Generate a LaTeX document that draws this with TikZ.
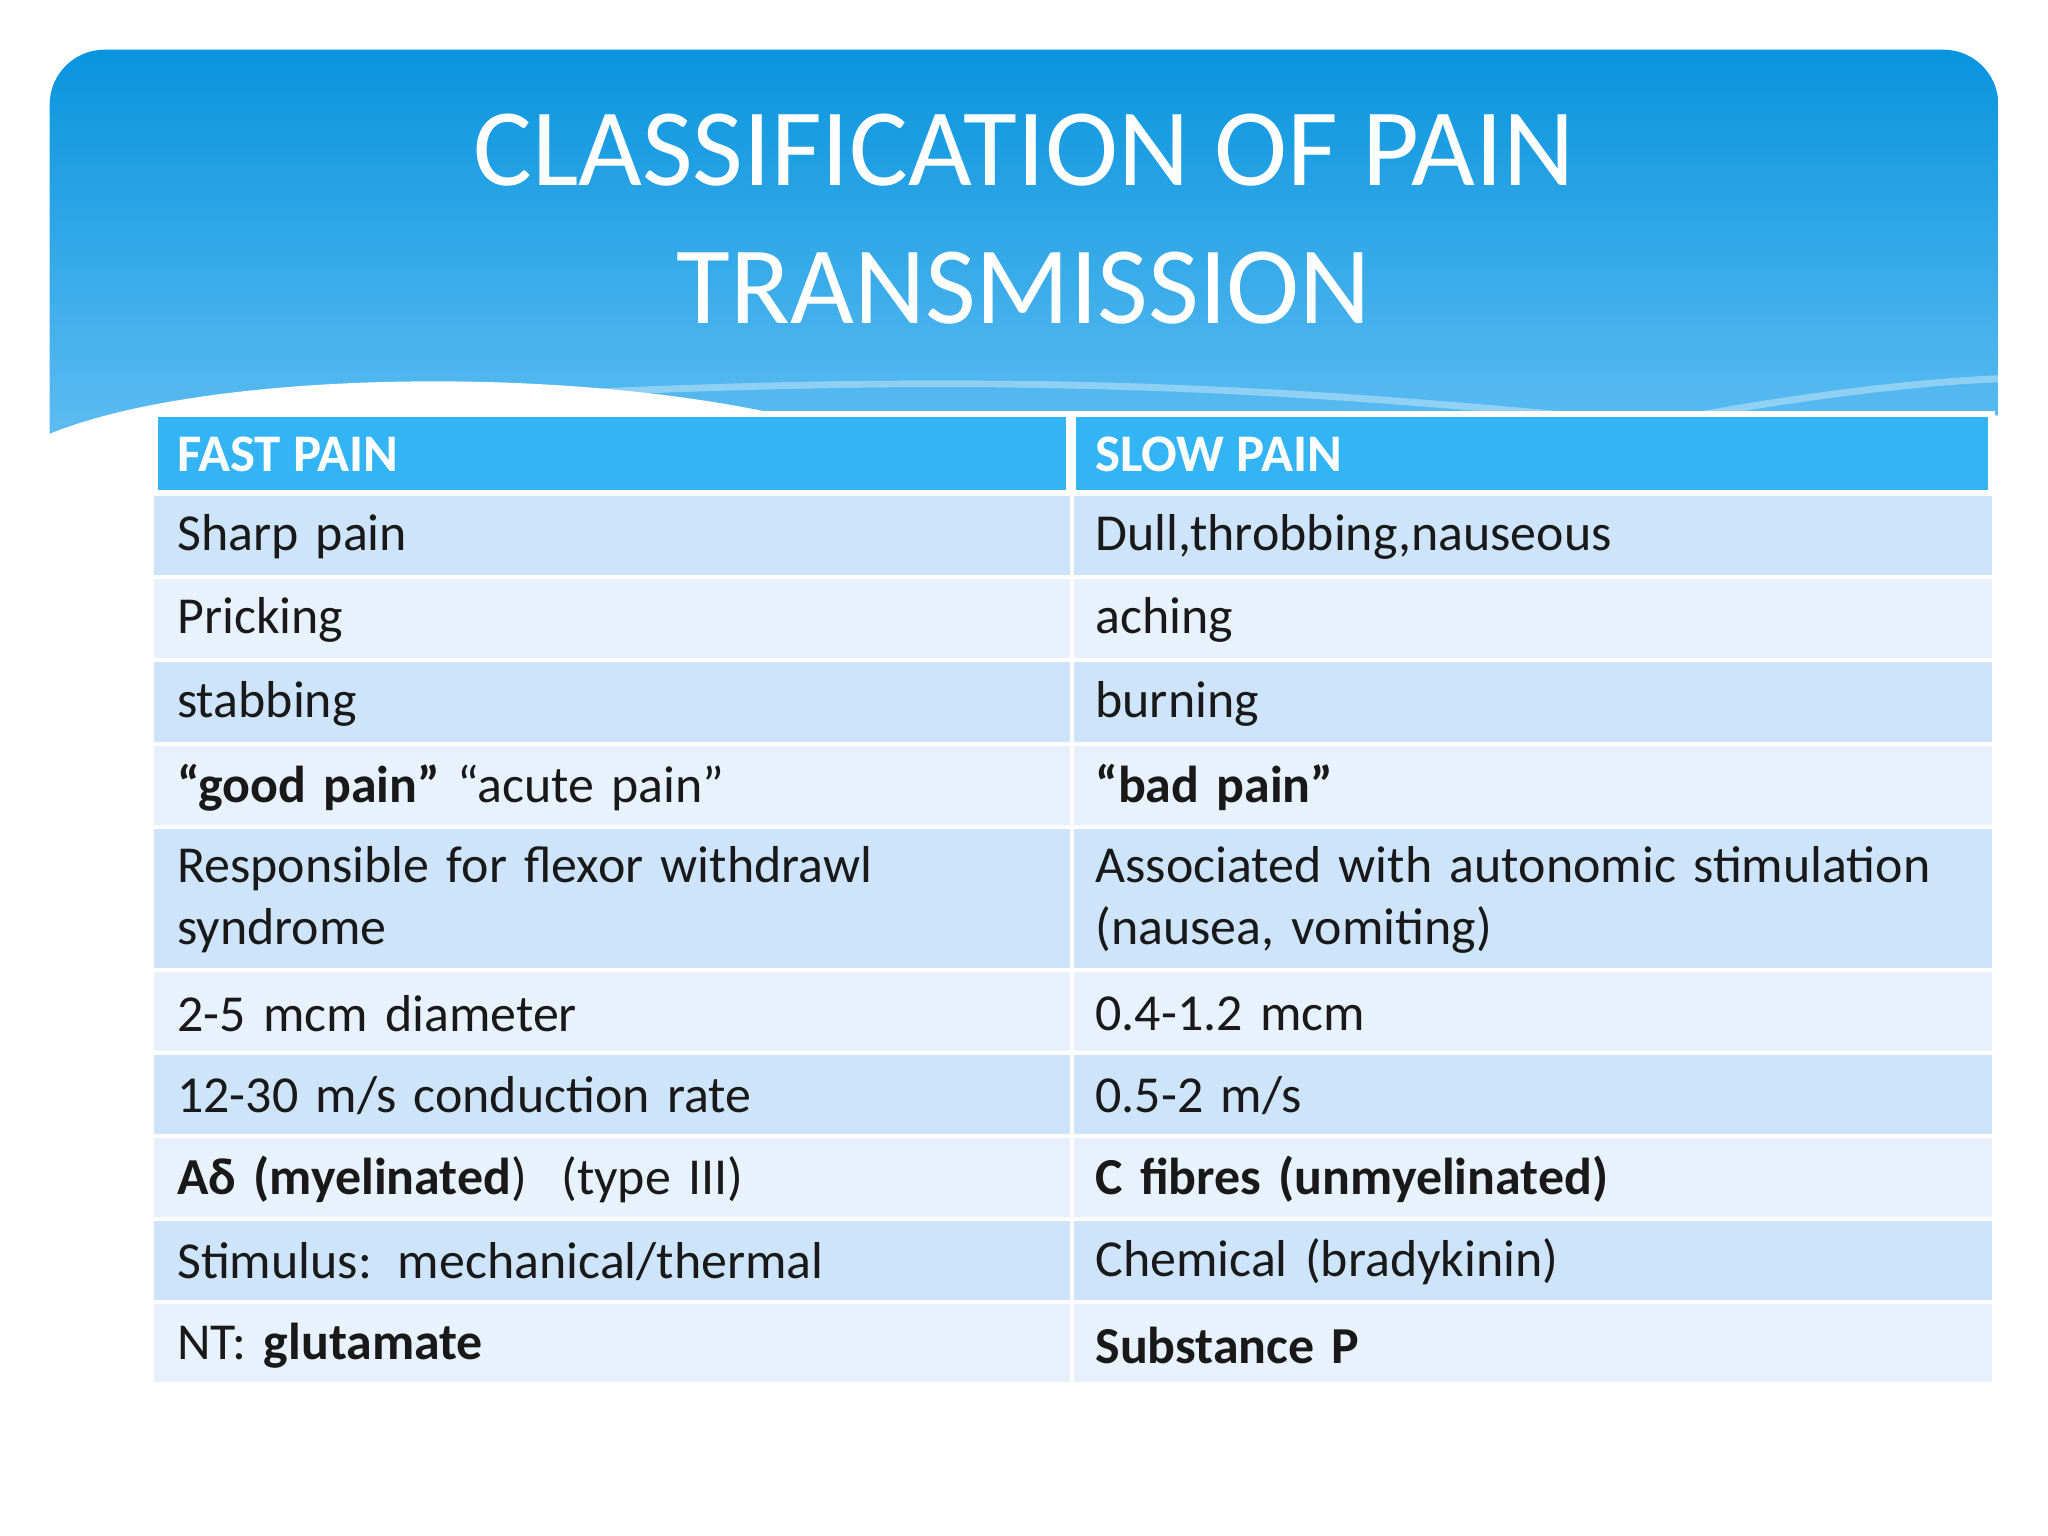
\documentclass[tikz,border=0pt]{standalone}
\usepackage{fontspec}
\setmainfont{Carlito}
\definecolor{bandtop}{RGB}{8,148,222}
\definecolor{bandbot}{RGB}{108,196,245}
\definecolor{headc}{RGB}{51,181,245}
\definecolor{rowa}{RGB}{206,228,250}
\definecolor{rowb}{RGB}{231,242,253}
\begin{document}
\begin{tikzpicture}[x=0.01cm,y=-0.01cm,
  cell/.style={anchor=west,font=\fontsize{11.3pt}{13.6pt}\selectfont,text=black!90,align=left,text width=6.8cm,inner sep=0pt},
  head/.style={anchor=west,font=\fontsize{11.5pt}{13pt}\selectfont\bfseries,text=white,inner sep=0pt}]
\useasboundingbox (0,0) rectangle (1568,1176);
\fill[white] (0,0) rectangle (1568,1176);
\shade[top color=bandtop,bottom color=bandbot,rounded corners=12]
  (38,38) rectangle (1530,390);
\fill[white] (36,333) .. controls (150,285) and (420,278) .. (600,318) -- (1532,318) -- (1532,392) -- (36,392) -- cycle;
\draw[white,opacity=0.35,line width=1.5] (460,300) .. controls (800,285) and (1000,300) .. (1200,318);
\draw[white,opacity=0.35,line width=1.5] (1300,318) .. controls (1400,300) and (1480,292) .. (1530,290);
\node[font=\fontsize{24pt}{30pt}\selectfont,text=white,align=center] (title) at (784,168) {CLASSIFICATION OF PAIN\\TRANSMISSION};
\fill[headc] (118,317) rectangle (1525,378);
\draw[white,line width=1.5] (118,317) rectangle (1525,378);
\draw[white,line width=2] (820,317) -- (820,378);
\node[head] (h1) at (135,348) {FAST PAIN};
\node[head] (h2) at (838,348) {SLOW PAIN};
\foreach \t/\b/\c in {380/443/rowa,443/507/rowb,507/571/rowa,571/635/rowb,635/744/rowa,744/808/rowb,808/871/rowa,871/935/rowb,935/998/rowa,998/1061/rowb}{
  \fill[\c] (118,\t) rectangle (819,\b-3);
  \fill[\c] (822,\t) rectangle (1525,\b-3);
}
\node[cell] (a1) at (135,411) {Sharp pain};
\node[cell] (b1) at (838,411) {Dull,throbbing,nauseous};
\node[cell] (a2) at (135,475) {Pricking};
\node[cell] (b2) at (838,475) {aching};
\node[cell] (a3) at (135,539) {stabbing};
\node[cell] (b3) at (838,539) {burning};
\node[cell] (a4) at (135,603) {\textbf{“good pain”} “acute pain”};
\node[cell] (b4) at (838,603) {\textbf{“bad pain”}};
\node[cell] (a5) at (135,689) {Responsible for flexor withdrawl\\syndrome};
\node[cell] (b5) at (838,689) {Associated with autonomic stimulation\\(nausea, vomiting)};
\node[cell] (a6) at (135,776) {2-5 mcm diameter};
\node[cell] (b6) at (838,776) {0.4-1.2 mcm};
\node[cell] (a7) at (135,839) {12-30 m/s conduction rate};
\node[cell] (b7) at (838,839) {0.5-2 m/s};
\node[cell] (a8) at (135,903) {\textbf{Aδ (myelinated})~ (type III)};
\node[cell] (b8) at (838,903) {\textbf{C fibres (unmyelinated)}};
\node[cell] (a9) at (135,966) {Stimulus: mechanical/thermal};
\node[cell] (b9) at (838,966) {Chemical (bradykinin)};
\node[cell] (a10) at (135,1030) {NT: \textbf{glutamate}};
\node[cell] (b10) at (838,1030) {\textbf{Substance P}};
\end{tikzpicture}
\end{document}
